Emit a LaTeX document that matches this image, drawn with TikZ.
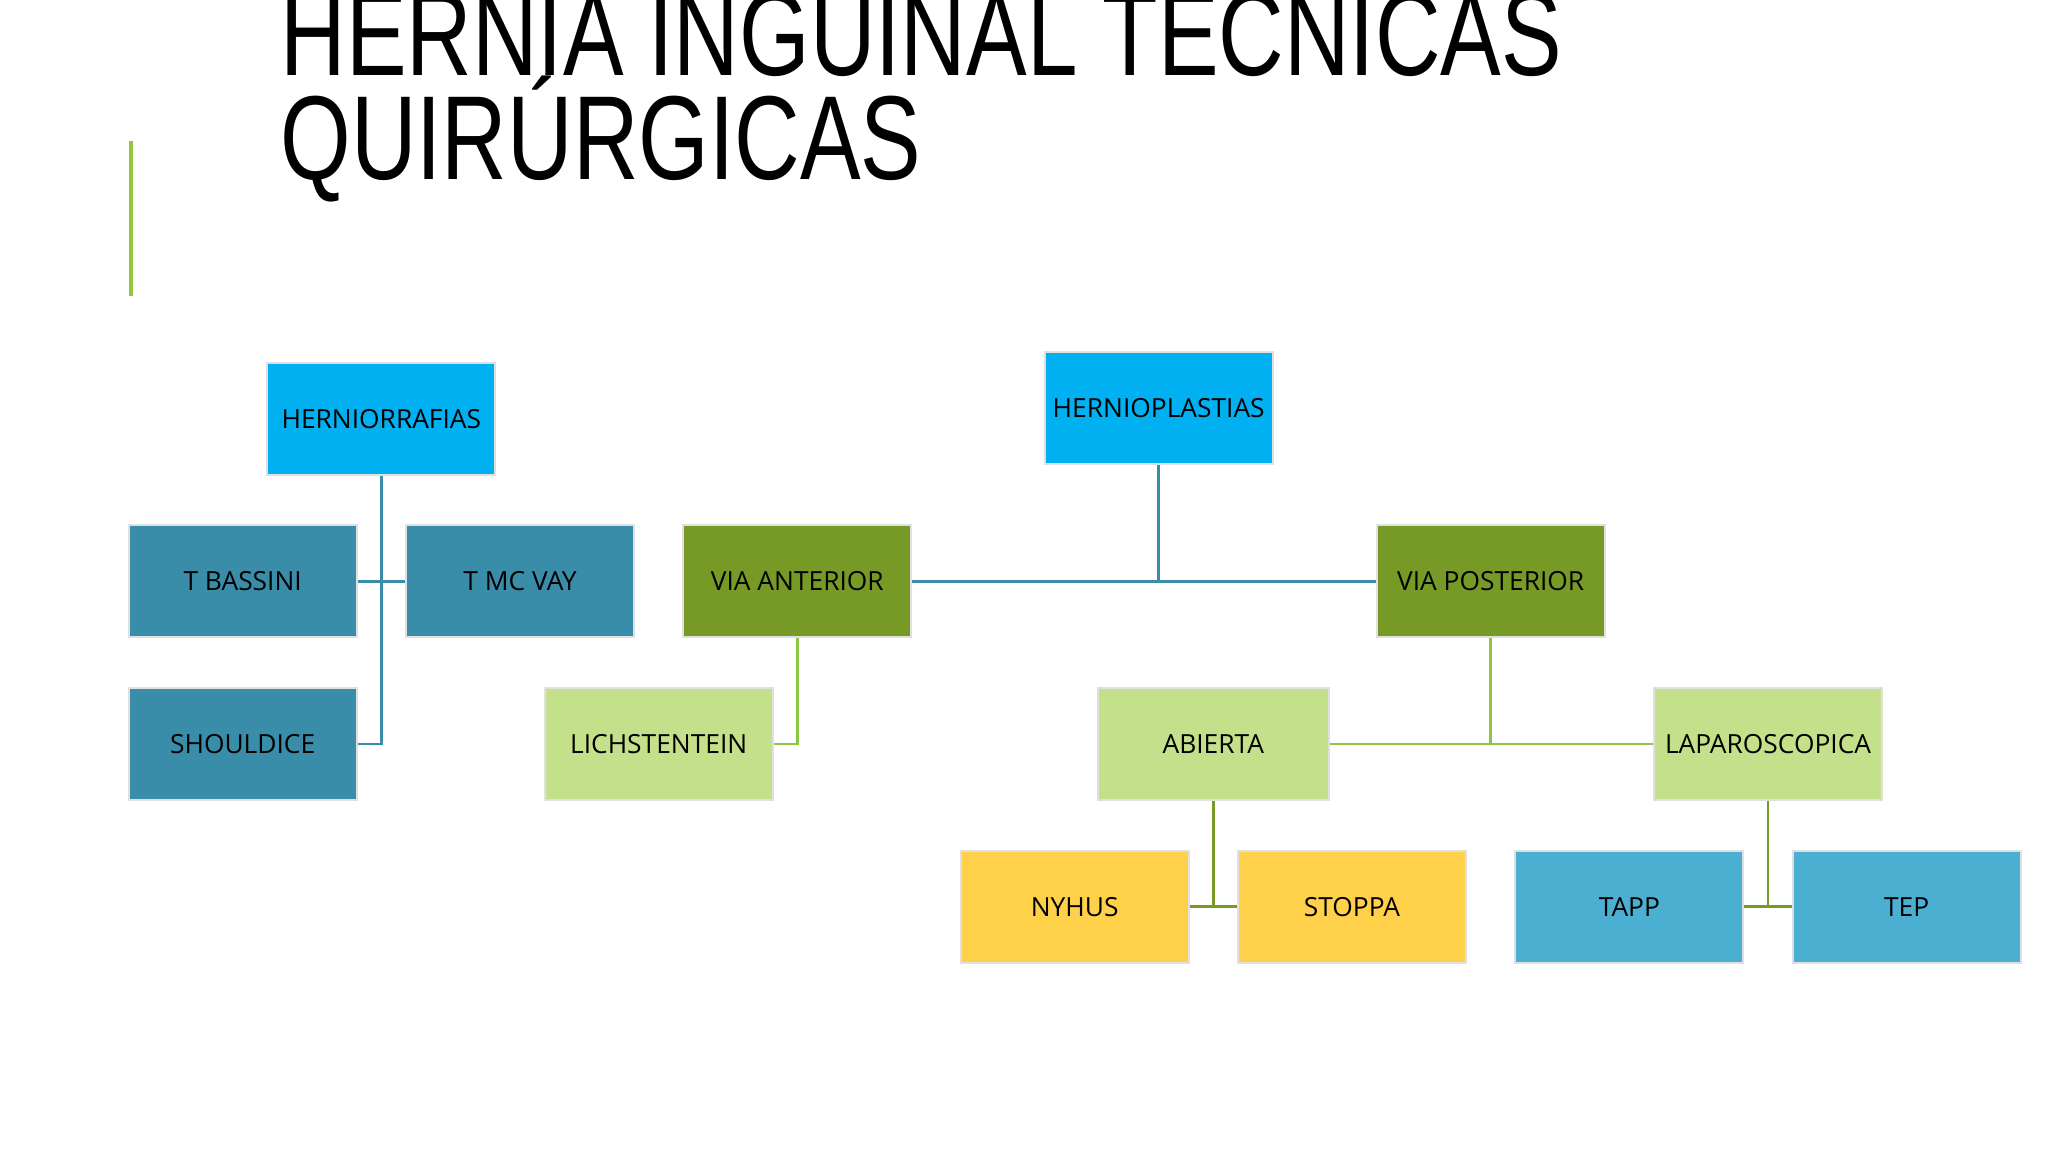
\documentclass[tikz,border=0pt]{standalone}
\usepackage{fontspec}
\setmainfont{Open Sans}
\newfontfamily\titlefont{Liberation Sans}
\usetikzlibrary{positioning}
\definecolor{boxblue}{HTML}{00B0F0}
\definecolor{boxteal}{HTML}{3A8DA8}
\definecolor{boxolive}{HTML}{779A27}
\definecolor{boxlight}{HTML}{C4E08A}
\definecolor{boxyellow}{HTML}{FFD14A}
\definecolor{boxsky}{HTML}{4BAFD1}
\definecolor{barline}{HTML}{92C83E}
\definecolor{linkteal}{HTML}{3A8DA8}
\definecolor{linkgreen}{HTML}{8DC63F}

\begin{document}
\begin{tikzpicture}[x=0.013333cm,y=-0.013333cm,
tbox/.style = {draw=black!12, line width=0.6pt, minimum width=171*0.013333cm,
  minimum height=84*0.013333cm, inner sep=0pt, font=\fontsize{7.5}{9}\selectfont},
link/.style = {line width=0.7pt}
]
\useasboundingbox (0,0) rectangle (1536,864);

% title
\node [anchor=base west, inner sep=0pt, xscale=0.76, font=\titlefont\fontsize{34}{34}\selectfont] (title1) at (210,57) {HERNIA INGUINAL TECNICAS};
\node [anchor=base west, inner sep=0pt, xscale=0.76, font=\titlefont\fontsize{34}{34}\selectfont] (title2) at (210,135) {QUIRÚRGICAS};
\draw [barline, line width=1.2pt] (98,106) -- (98,222);

% boxes
\node [tbox, fill=boxblue] (rafias) at (286,314) {HERNIORRAFIAS};
\node [tbox, fill=boxblue] (plastias) at (869,306) {HERNIOPLASTIAS};
\node [tbox, fill=boxteal] (bassini) at (182,436) {T BASSINI};
\node [tbox, fill=boxteal] (mcvay) at (390,436) {T MC VAY};
\node [tbox, fill=boxteal] (shouldice) at (182,558) {SHOULDICE};
\node [tbox, fill=boxolive] (anterior) at (598,436) {VIA ANTERIOR};
\node [tbox, fill=boxolive] (posterior) at (1118,436) {VIA POSTERIOR};
\node [tbox, fill=boxlight] (lich) at (494,558) {LICHSTENTEIN};
\node [tbox, fill=boxlight, minimum width=173*0.013333cm] (abierta) at (910,558) {ABIERTA};
\node [tbox, fill=boxlight] (laparo) at (1326,558) {LAPAROSCOPICA};
\node [tbox, fill=boxyellow] (nyhus) at (806,680) {NYHUS};
\node [tbox, fill=boxyellow] (stoppa) at (1014,680) {STOPPA};
\node [tbox, fill=boxsky] (tapp) at (1222,680) {TAPP};
\node [tbox, fill=boxsky] (tep) at (1430,680) {TEP};

% connectors
\draw [link, linkteal] (rafias.south) |- (shouldice.east);
\draw [link, linkteal] (bassini.east) -- (mcvay.west);
\draw [link, linkteal] (plastias.south) -- (plastias.south |- anterior.east);
\draw [link, linkteal] (anterior.east) -- (posterior.west);
\draw [link, linkgreen] (anterior.south) |- (lich.east);
\draw [link, linkgreen] (posterior.south) -- (posterior.south |- abierta.east);
\draw [link, linkgreen] (abierta.east) -- (laparo.west);
\draw [link, boxolive] (abierta.south) -- (abierta.south |- nyhus.east);
\draw [link, boxolive] (nyhus.east) -- (stoppa.west);
\draw [link, boxolive] (laparo.south) -- (laparo.south |- tapp.east);
\draw [link, boxolive] (tapp.east) -- (tep.west);
\end{tikzpicture}
\end{document}
